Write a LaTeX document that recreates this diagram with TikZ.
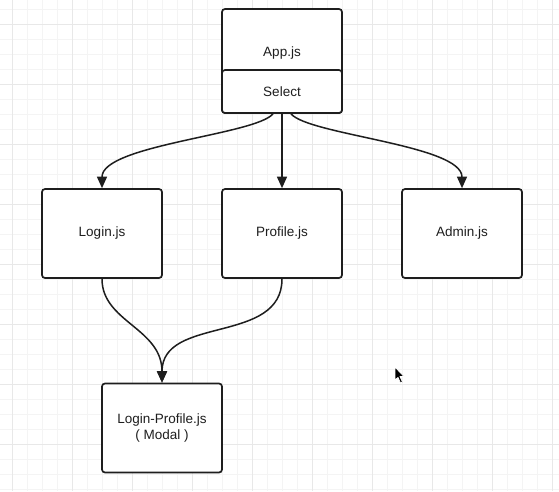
\documentclass[tikz,border=0pt]{standalone}
\usepackage{fontspec}
\setmainfont{Liberation Sans}
\usetikzlibrary{arrows.meta}
\definecolor{minorgrid}{HTML}{F4F4F4}
\definecolor{majorgrid}{HTML}{E8E8E8}
\definecolor{ink}{HTML}{1E1E1E}
\tikzset{
  box/.style={draw=ink, fill=white, rounded corners=3pt, line width=1.7pt,
    minimum width=120pt, inner sep=0pt, font=\fontsize{13.5}{15.5}\selectfont, text=ink, align=center},
  lbl/.style={inner sep=0pt, font=\fontsize{13.5}{15.5}\selectfont, text=ink},
  link/.style={draw=ink, line width=1.5pt, -{Triangle[length=11.5pt,width=10pt]}},
}
\begin{document}
\begin{tikzpicture}[x=1pt,y=-1pt]
\useasboundingbox (0,0) rectangle (559,491);
\fill[white] (0,0) rectangle (559,491);
% minor grid
\foreach \gx in {12,27,...,559} \draw[minorgrid, line width=0.8pt] (\gx,0) -- (\gx,491);
\foreach \gy in {9,24,...,491} \draw[minorgrid, line width=0.8pt] (0,\gy) -- (559,\gy);
% major grid
\foreach \gx in {12,72,...,559} \draw[majorgrid, line width=0.9pt] (\gx,0) -- (\gx,491);
\foreach \gy in {24,84,...,491} \draw[majorgrid, line width=0.9pt] (0,\gy) -- (559,\gy);

% App.js with Select
\node[box, minimum height=104pt] (app) at (282,61) {};
\node[lbl] (apptext) at (282,53) {App.js};
\node[box, minimum height=43pt] (select) at (282,91.5) {Select};

\node[box, minimum height=89pt] (login) at (102,233.5) {Login.js};
\node[box, minimum height=89pt] (profile) at (282,233.5) {Profile.js};
\node[box, minimum height=89pt] (admin) at (462,233.5) {Admin.js};
\node[box, minimum height=89pt] (modal) at (162,428) {Login-Profile.js\\( Modal )};

\coordinate (sL) at ([xshift=-9pt]select.south);
\coordinate (sR) at ([xshift=9pt]select.south);

\draw[link] (sL) .. controls (255,135) and (102,145) .. (login.north);
\draw[link] (select.south) -- (profile.north);
\draw[link] (sR) .. controls (309,135) and (462,145) .. (admin.north);
\draw[link] (login.south) .. controls (102,322) and (162,328) .. (modal.north);
\draw[link] (profile.south) .. controls (282,345) and (162,315) .. (modal.north);

% mouse cursor
\filldraw[fill=black, draw=white, line width=0.8pt, line join=round]
  (395,367) -- (395,380) -- (398,377.5) -- (400.5,383) -- (402.5,382) -- (400,376.5) -- (404,376.5) -- cycle;
\end{tikzpicture}
\end{document}
